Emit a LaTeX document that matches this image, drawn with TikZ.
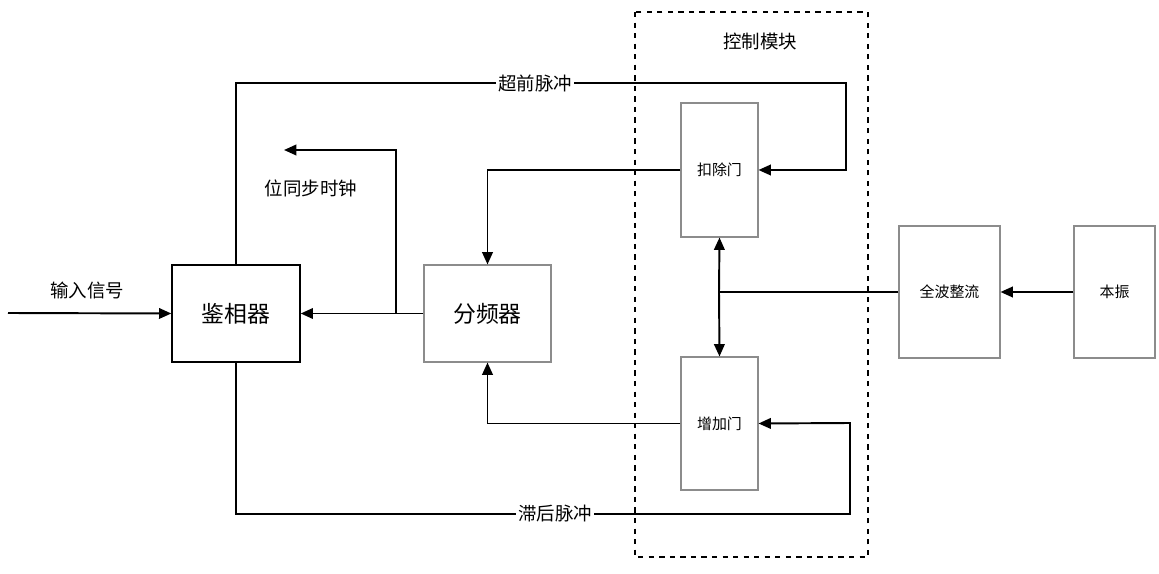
\documentclass[tikz,border=0pt]{standalone}
\usepackage{fontspec}
\newfontfamily\cjk{Noto Sans CJK SC}
\usetikzlibrary{arrows.meta}
\begin{document}
\begin{tikzpicture}[x=0.02cm,y=-0.02cm,font=\cjk,
  blk/.style={draw=black!45,line width=0.6pt,inner sep=0pt},
  ln/.style={line width=1.1pt},
  ar/.style={ln,-{Triangle[length=7pt,width=6pt]}},
  lab/.style={font=\cjk\fontsize{10.5}{12}\selectfont,fill=white,inner sep=1pt}]
\useasboundingbox (0,0) rectangle (1159,574);
\draw[dashed,line width=0.8pt] (635,12) rectangle (868,557);
\node[font=\cjk\fontsize{10.5}{12}\selectfont] (ctl) at (760,42) {控制模块};
\node[draw=black,line width=0.8pt,minimum width=2.56cm,minimum height=1.94cm,font=\cjk\fontsize{13}{15}\selectfont] (pd) at (236,313.5) {鉴相器};
\node[blk,minimum width=2.54cm,minimum height=1.94cm,font=\cjk\fontsize{13}{15}\selectfont] (div) at (487.5,313.5) {分频器};
\node[blk,minimum width=1.54cm,minimum height=2.68cm,font=\cjk\fontsize{8.5}{10}\selectfont] (sub) at (719.5,170) {扣除门};
\node[blk,minimum width=1.54cm,minimum height=2.66cm,font=\cjk\fontsize{8.5}{10}\selectfont] (add) at (719.5,423.5) {增加门};
\node[blk,minimum width=2.02cm,minimum height=2.64cm,font=\cjk\fontsize{8.5}{10}\selectfont] (rect) at (949.5,292) {全波整流};
\node[blk,minimum width=1.62cm,minimum height=2.64cm,font=\cjk\fontsize{8.5}{10}\selectfont] (osc) at (1114.5,292) {本振};
\coordinate (in) at (8,313);
\draw[ar] (in) -- (pd.west);
\node[lab] (inl) at (87,290) {输入信号};
\draw[ar] (div.west) -- (pd.east);
\coordinate (br) at (396,313);
\coordinate (clk) at (284,150);
\draw[ar] (br) |- (clk);
\node[lab] (clkl) at (311,188) {位同步时钟};
\coordinate (t1) at (236,83); \coordinate (t2) at (846,83); \coordinate (t3) at (846,170);
\draw[ar] (pd.north) -- (t1) -- (t2) -- (t3) -- (sub.east);
\node[lab] (tl) at (535,83) {超前脉冲};
\draw[ar] (sub.west) -| (div.north);
\coordinate (b1) at (236,514); \coordinate (b2) at (850,514); \coordinate (b3) at (850,423);
\draw[ar] (pd.south) -- (b1) -- (b2) -- (b3) -- (add.east);
\node[lab] (bl) at (555,514) {滞后脉冲};
\draw[ar] (add.west) -| (div.south);
\coordinate (j) at (719,292);
\draw[ln] (rect.west) -- (j);
\draw[ar] (j) -- (sub.south);
\draw[ar] (j) -- (add.north);
\draw[ar] (osc.west) -- (rect.east);
\end{tikzpicture}
\end{document}
